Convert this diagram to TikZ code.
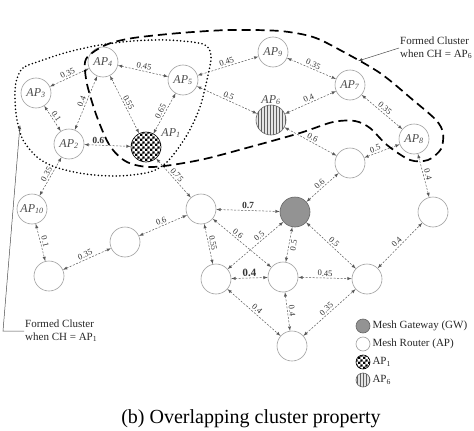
\documentclass[tikz,border=0pt]{standalone}
\usepackage{fontspec}
\setmainfont{Liberation Serif}
\usetikzlibrary{arrows,patterns,positioning}
\newcommand{\apn}[1]{\textit{AP}\textsubscript{\textit{#1}}}
\pgfdeclarepatternformonly{finechecks}{\pgfpointorigin}{\pgfqpoint{5.2pt}{5.2pt}}{\pgfqpoint{5.2pt}{5.2pt}}{%
  \pgfpathrectangle{\pgfpointorigin}{\pgfqpoint{2.6pt}{2.6pt}}%
  \pgfpathrectangle{\pgfqpoint{2.6pt}{2.6pt}}{\pgfqpoint{2.6pt}{2.6pt}}%
  \pgfusepath{fill}}

\begin{document}
\begin{tikzpicture}[x=1pt,y=-1pt,>=latex]
\tikzstyle{router} = [circle, draw=gray!75, fill=white, line width=0.6pt, minimum size=30pt, inner sep=0pt, text=gray!60!black, font=\fontsize{12}{12}\selectfont]
\tikzstyle{gateway} = [fill=gray!85, draw=gray!80!black]
\tikzstyle{chk} = [draw=black, postaction={pattern=finechecks, pattern color=black}]
\tikzstyle{stripe} = [draw=gray!80!black, fill=gray!20, postaction={pattern=vertical lines, pattern color=gray!75!black}]
\tikzstyle{link} = [<->, dash pattern=on 2pt off 1.5pt, draw=gray!70!black, line width=0.5pt]
\tikzstyle{weight} = [sloped, above, inner sep=1.5pt, font=\fontsize{8.5}{8.5}\selectfont, text=black!80]
\tikzstyle{keydot} = [circle, draw=gray!75, line width=0.6pt, minimum size=14pt, inner sep=0pt]
\tikzstyle{keytext} = [right=1pt, inner sep=1pt, font=\fontsize{11}{11}\selectfont, text=black!85]
\tikzstyle{note} = [align=left, inner sep=1pt, font=\fontsize{11}{12.5}\selectfont, text=black!85]
\tikzstyle{leader} = [->, draw=gray!60!black, line width=0.5pt]
\useasboundingbox (0,0) rectangle (474,431);

\node [router] (ap3) at (36,93) {\apn{3}};
\node [router] (ap4) at (103,62) {\apn{4}};
\node [router] (ap5) at (183,80) {\apn{5}};
\node [router] (ap2) at (69,144) {\apn{2}};
\node [router,chk] (ap1) at (146,147) {};
\node [router] (ap9) at (273,52) {\apn{9}};
\node [router] (ap7) at (350,85) {\apn{7}};
\node [router,stripe] (ap6) at (271,120) {};
\node [router] (ap8) at (414,139) {\apn{8}};
\node [router] (ap10) at (32,209) {\apn{10}};
\node [router] (mr1) at (350,163) {};
\node [router] (mr2) at (49,276) {};
\node [router] (mr3) at (125,242) {};
\node [router] (mr4) at (201,209) {};
\node [router,gateway] (gw) at (295,212) {};
\node [router] (mr5) at (433,212) {};
\node [router] (mr6) at (216,279) {};
\node [router] (mr7) at (283,277) {};
\node [router] (mr8) at (367,279) {};
\node [router] (mr9) at (292,346) {};
\node [text=gray!60!black, font=\fontsize{12}{12}\selectfont] (lab1) at (171,133) {\apn{1}};
\node [text=gray!60!black, font=\fontsize{12}{12}\selectfont] (lab6) at (271,100) {\apn{6}};

\path (ap3) edge [link] node [weight] {0.35} (ap4);
\path (ap4) edge [link] node [weight] {0.45} (ap5);
\path (ap3) edge [link] node [weight] {0.1} (ap2);
\path (ap2) edge [link] node [weight] {0.4} (ap4);
\path (ap4) edge [link] node [weight] {0.55} (ap1);
\path (ap5) edge [link] node [weight] {0.65} (ap1);
\path (ap2) edge [link] node [weight,pos=0.3,font=\fontsize{9.5}{9.5}\selectfont\bfseries] {0.6} (ap1);
\path (ap5) edge [link] node [weight] {0.45} (ap9);
\path (ap5) edge [link] node [weight] {0.5} (ap6);
\path (ap9) edge [link] node [weight] {0.35} (ap7);
\path (ap6) edge [link] node [weight] {0.4} (ap7);
\path (ap7) edge [link] node [weight] {0.35} (ap8);
\path (ap6) edge [link] node [weight] {0.6} (mr1);
\path (mr1) edge [link] node [weight,pos=0.35] {0.5} (ap8);
\path (ap8) edge [link] node [weight] {0.4} (mr5);
\path (gw) edge [link] node [weight] {0.6} (mr1);
\path (ap2) edge [link] node [weight] {0.35} (ap10);
\path (ap10) edge [link] node [weight] {0.1} (mr2);
\path (mr2) edge [link] node [weight] {0.35} (mr3);
\path (mr3) edge [link] node [weight] {0.6} (mr4);
\path (ap1) edge [link] node [weight] {0.75} (mr4);
\path (mr4) edge [link] node [weight,font=\fontsize{9.5}{9.5}\selectfont\bfseries] {0.7} (gw);
\path (mr4) edge [link] node [weight] {0.55} (mr6);
\path (mr4) edge [link] node [weight,pos=0.38] {0.6} (mr7);
\path (mr6) edge [link] node [weight,pos=0.62] {0.5} (gw);
\path (mr7) edge [link] node [weight,below] {0.5} (gw);
\path (gw) edge [link] node [weight] {0.5} (mr8);
\path (mr6) edge [link] node [weight,font=\fontsize{11}{11}\selectfont\bfseries] {0.4} (mr7);
\path (mr7) edge [link] node [weight] {0.45} (mr8);
\path (mr8) edge [link] node [weight] {0.4} (mr5);
\path (mr6) edge [link] node [weight] {0.4} (mr9);
\path (mr7) edge [link] node [weight] {0.4} (mr9);
\path (mr9) edge [link] node [weight] {0.35} (mr8);

% cluster around AP1
\draw [line width=1.8pt, line cap=round, dash pattern=on 0pt off 3.6pt]
  plot [smooth cycle] coordinates {(43,60) (23,68) (16,82) (15,100) (17,120) (23,140) (37,157) (55,167) (85,174) (118,176) (150,172) (168,161) (187,135) (200,107) (208,75) (211,55) (203,44) (167,40) (133,41) (100,45) (68,52)};
% cluster around AP6
\draw [line width=1.7pt, dash pattern=on 9pt off 5pt]
  plot [smooth cycle] coordinates {(85,62) (87,84) (97,117) (110,146) (127,162) (153,167) (200,160) (250,147) (300,133) (333,122) (355,121) (370,128) (387,145) (410,160) (428,160) (441,149) (443,133) (436,120) (413,100) (380,73) (340,50) (313,37) (280,31) (230,30) (180,33) (133,38) (108,44) (92,53)};

\node [note, anchor=west] (noteA) at (24,331) {Formed Cluster\\when CH = AP\textsubscript{1}};
\coordinate (bendA) at (3,331);
\coordinate (tipA) at (20,125);
\draw [leader] (noteA.west) -- (bendA) -- (tipA);
\node [note, anchor=west] (noteB) at (399,48) {Formed Cluster\\when CH = AP\textsubscript{6}};
\coordinate (tipB) at (358,61);
\draw [leader] (noteB.west) -- (tipB);

% legend
\node [keydot, gateway] (key1) at (363,326) {};
\node [keytext] (keyt1) at (key1.east) {Mesh Gateway (GW)};
\node [keydot, fill=white] (key2) at (363,344) {};
\node [keytext] (keyt2) at (key2.east) {Mesh Router (AP)};
\node [keydot, chk] (key3) at (363,362) {};
\node [keytext] (keyt3) at (key3.east) {AP\textsubscript{1}};
\node [keydot, stripe] (key4) at (363,380) {};
\node [keytext] (keyt4) at (key4.east) {AP\textsubscript{6}};

\node [font=\fontsize{20}{20}\selectfont] (caption) at (251,419) {(b) Overlapping cluster property};
\end{tikzpicture}
\end{document}
